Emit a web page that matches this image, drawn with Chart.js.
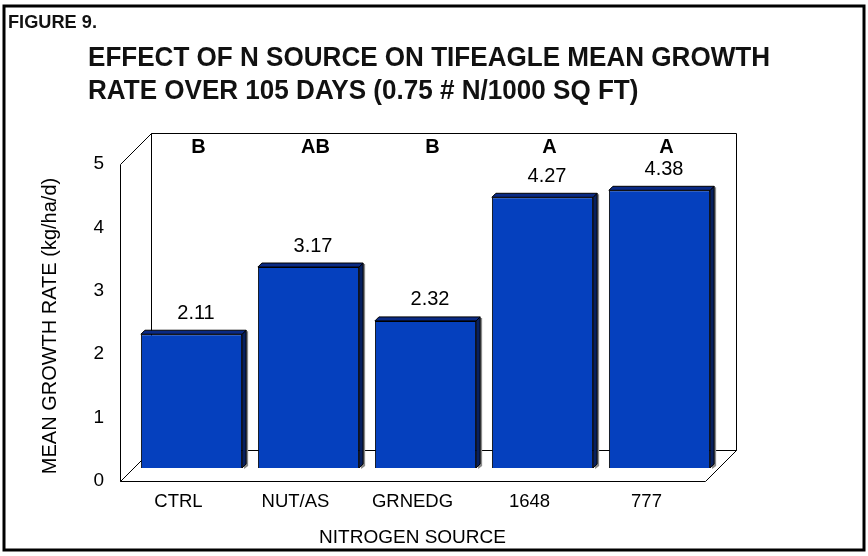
<!DOCTYPE html>
<html>
<head>
<meta charset="utf-8">
<script src="https://cdn.jsdelivr.net/npm/chart.js@4.4.1/dist/chart.umd.min.js"></script>
<style>
  body { margin: 0; background: #fff; }
  #wrap { width: 868px; height: 556px; }
</style>
</head>
<body>
<div id="wrap"><canvas id="growthChart" width="868" height="556"></canvas></div>
<script>
// data
const categories = ['CTRL', 'NUT/AS', 'GRNEDG', '1648', '777'];
const growthRate = [2.11, 3.17, 2.32, 4.27, 4.38];
const letters = ['B', 'AB', 'B', 'A', 'A'];
const yTicks = [0, 1, 2, 3, 4, 5];

const figureLabel = 'FIGURE 9.';
const titleLines = ['EFFECT OF N SOURCE ON TIFEAGLE MEAN GROWTH', 'RATE OVER 105 DAYS (0.75 # N/1000 SQ FT)'];
const yTitle = 'MEAN GROWTH RATE (kg/ha/d)';
const xTitle = 'NITROGEN SOURCE';

const FONT = '"Liberation Sans", Arial, sans-serif';
const FRONT = 13;   // floor front edge offset
const BACK = 18;    // back wall offset
const DEPTH = 4;    // bar depth

// draw text squeezed/stretched to a given width
function fitText(ctx, text, x, y, width) {
  const w = ctx.measureText(text).width;
  ctx.save();
  ctx.translate(x, y);
  ctx.scale(width / w, 1);
  ctx.fillText(text, 0, 0);
  ctx.restore();
}

function poly(ctx, pts, fill, stroke) {
  ctx.beginPath();
  ctx.moveTo(pts[0][0], pts[0][1]);
  for (let i = 1; i < pts.length; i++) ctx.lineTo(pts[i][0], pts[i][1]);
  ctx.closePath();
  if (fill) { ctx.fillStyle = fill; ctx.fill(); }
  if (stroke) { ctx.strokeStyle = stroke; ctx.lineWidth = 1; ctx.stroke(); }
}

const figurePlugin = {
  id: 'figure3d',
  beforeDraw(chart) {
    const ctx = chart.ctx;
    const { left: L, right: R, top: T, bottom: B } = chart.chartArea;
    ctx.save();
    ctx.fillStyle = '#fff';
    ctx.fillRect(0, 0, chart.width, chart.height);

    // outer frame
    ctx.strokeStyle = '#000';
    ctx.lineWidth = 3;
    ctx.strokeRect(4, 6, 860, 544);

    // headings
    ctx.fillStyle = '#111';
    ctx.textBaseline = 'alphabetic';
    ctx.textAlign = 'left';
    ctx.font = 'bold 18px ' + FONT;
    fitText(ctx, figureLabel, 8, 28, 89);
    ctx.font = 'bold 27px ' + FONT;
    const s = 682 / ctx.measureText(titleLines[0]).width;
    ctx.save();
    ctx.translate(88, 0);
    ctx.scale(s, 1);
    ctx.fillText(titleLines[0], 0, 66);
    ctx.fillText(titleLines[1], 0, 99);
    ctx.restore();

    // 3d box: back wall, left wall, floor
    ctx.translate(0.5, 0.5);
    const l = Math.round(L), r = Math.round(R), t = Math.round(T), b = Math.round(B);
    poly(ctx, [[l + BACK, t - BACK], [r + BACK, t - BACK], [r + BACK, b - BACK], [l + BACK, b - BACK]], '#fff', '#000');
    poly(ctx, [[l - FRONT, t + FRONT], [l + BACK, t - BACK], [l + BACK, b - BACK], [l - FRONT, b + FRONT]], '#fff', '#000');
    poly(ctx, [[l - FRONT, b + FRONT], [r - FRONT, b + FRONT], [r + BACK, b - BACK], [l + BACK, b - BACK]], '#fff', '#000');
    ctx.restore();
  },
  beforeDatasetsDraw(chart) {
    const ctx = chart.ctx;
    const bars = chart.getDatasetMeta(0).data;
    ctx.save();
    bars.forEach(bar => {
      const x0 = bar.x - bar.width / 2, x1 = bar.x + bar.width / 2;
      const y0 = bar.y, y1 = bar.base;
      // shadow
      poly(ctx, [[x1 + 1, y0 - DEPTH + 1], [x1 + DEPTH + 2, y0 - DEPTH + 1], [x1 + DEPTH + 2, y1 - DEPTH + 2], [x1 + 2, y1 + 1]], '#8a8a8a');
      // side
      poly(ctx, [[x1, y0], [x1 + DEPTH, y0 - DEPTH], [x1 + DEPTH, y1 - DEPTH], [x1, y1]], '#07205f', '#000');
      // top
      poly(ctx, [[x0, y0], [x0 + DEPTH, y0 - DEPTH], [x1 + DEPTH, y0 - DEPTH], [x1, y0]], '#0a2a84', '#000');
    });
    ctx.restore();
  },
  afterDatasetsDraw(chart) {
    const ctx = chart.ctx;
    const ys = chart.scales.y;
    const { left: L, right: R, bottom: B } = chart.chartArea;
    const bars = chart.getDatasetMeta(0).data;
    ctx.save();
    ctx.fillStyle = '#000';
    ctx.textBaseline = 'middle';

    // y tick labels on the front plane
    ctx.font = '19px ' + FONT;
    ctx.textAlign = 'right';
    yTicks.forEach(v => ctx.fillText(String(v), 104, ys.getPixelForValue(v) + FRONT));

    // value labels, letters, category labels
    bars.forEach((bar, i) => {
      ctx.textAlign = 'center';
      ctx.font = '20px ' + FONT;
      ctx.fillText(growthRate[i].toFixed(2), bar.x + 4.5, bar.y - 21);
      ctx.font = 'bold 20px ' + FONT;
      ctx.fillText(letters[i], bar.x + 7, ys.getPixelForValue(5) - 4);
      ctx.font = '18.5px ' + FONT;
      ctx.fillText(categories[i], bar.x - FRONT, B + 34);
    });

    // axis titles
    ctx.font = '19px ' + FONT;
    ctx.fillText(xTitle, (L + R) / 2 - FRONT, 538);
    ctx.save();
    ctx.translate(50, 326);
    ctx.rotate(-Math.PI / 2);
    ctx.font = '20px ' + FONT;
    ctx.fillText(yTitle, 0, 0);
    ctx.restore();
    ctx.restore();
  }
};

const ctxGrowth = document.getElementById('growthChart').getContext('2d');
new Chart(ctxGrowth, {
  type: 'bar',
  data: {
    labels: categories,
    datasets: [{
      label: 'Mean growth rate',
      data: growthRate,
      backgroundColor: '#0540be',
      borderColor: '#000',
      borderWidth: 1,
      categoryPercentage: 1,
      barPercentage: 0.865
    }]
  },
  options: {
    responsive: false,
    animation: false,
    layout: { padding: { left: 133, right: 150, top: 151, bottom: 88 } },
    plugins: {
      legend: { display: false },
      tooltip: { enabled: false },
      title: { display: false }
    },
    scales: {
      x: { display: false },
      y: { display: false, min: 0, max: 5 }
    }
  },
  plugins: [figurePlugin]
});
</script>
</body>
</html>
